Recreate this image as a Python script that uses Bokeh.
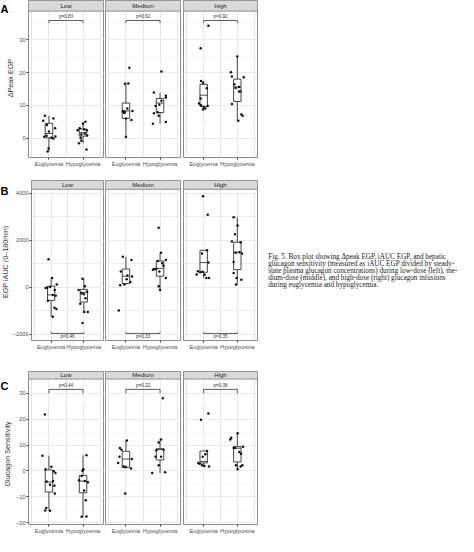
import numpy as np
from bokeh.plotting import figure
from bokeh.models import Range1d, FixedTicker, LinearAxis, Grid, ColumnDataSource
from bokeh.layouts import row, column
from bokeh.embed import file_html
from bokeh.resources import INLINE
from bokeh.core.properties import value

# ---------------- data ----------------
CONDITIONS = ["Euglycemia", "Hypoglycemia"]
DOSES = ["Low", "Medium", "High"]

# Panel A: delta peak EGP
A_LOW_EUG_Y = [6.8, 6.0, 5.3, 4.0, 3.0, 2.0, 0.7, 0.1, -0.1, 0.5, 0.4, -3.2, -4.1]
A_LOW_EUG_DX = [-0.12, 0.13, -0.17, -0.06, 0.18, 0.0, -0.07, 0.07, 0.13, 0.19, -0.14, -0.01, -0.04]
A_LOW_HYP_Y = [5.0, 4.4, 3.0, 2.4, 2.6, 2.4, 1.3, 1.1, 0.8, 0.0, -0.8, -1.6, -3.5]
A_LOW_HYP_DX = [0.07, 0.0, -0.10, -0.16, 0.03, 0.11, 0.05, -0.05, 0.12, -0.07, -0.05, -0.12, 0.10]
A_MED_EUG_Y = [21.5, 16.7, 16.6, 8.2, 8.0, 7.7, 9.0, 8.3, 5.5, 6.0, 0.3, 8.1]
A_MED_EUG_DX = [0.10, 0.07, -0.03, -0.07, -0.03, -0.05, 0.04, 0.19, 0.16, 0.0, 0.0, -0.09]
A_MED_HYP_Y = [20.3, 13.9, 12.9, 12.4, 10.2, 9.8, 11.4, 7.9, 7.6, 6.8, 4.4, 4.9]
A_MED_HYP_DX = [0.04, -0.18, 0.17, 0.17, -0.02, -0.13, 0.04, -0.07, -0.18, -0.04, -0.21, 0.17]
A_HIGH_EUG_Y = [34.3, 27.4, 17.4, 16.9, 15.2, 12.1, 10.6, 10.0, 9.5, 9.0, 8.7, 9.8]
A_HIGH_EUG_DX = [0.14, -0.09, -0.08, -0.02, 0.09, -0.09, -0.14, -0.08, 0.0, 0.05, -0.02, 0.12]
A_HIGH_HYP_Y = [24.9, 20.1, 18.6, 18.8, 16.4, 15.6, 15.3, 14.2, 14.2, 10.4, 7.2, 6.8, 5.3]
A_HIGH_HYP_DX = [0.0, -0.19, 0.19, -0.16, -0.09, 0.05, -0.05, 0.09, 0.05, -0.16, 0.12, 0.16, 0.03]
# box stats in order Low-Eu, Low-Hypo, Med-Eu, Med-Hypo, High-Eu, High-Hypo
A_Q1 = [0.1, 0.6, 6.0, 7.8, 9.7, 11.2]
A_MEDIAN = [1.4, 1.7, 8.3, 10.7, 13.1, 15.6]
A_Q3 = [4.5, 2.8, 10.7, 12.1, 16.4, 18.0]
A_WLO = [-4.1, -1.6, 0.3, 4.4, 8.7, 5.3]
A_WHI = [6.8, 5.0, 16.7, 13.9, 17.4, 24.9]
A_P = ["p=0.83", "p=0.62", "p=0.92"]
A_BRACKET = [35.9, 35.1, 37.2]   # level, tip, label
A_YTICKS = [0, 10, 20, 30]
A_YMINOR = [-5, 5, 15, 25, 35]
A_YRANGE = [-5.92, 42.0, 38.76]  # bottom, top, strip bottom
A_TITLE = "ΔPeak EGP"

# Panel B: EGP iAUC
B_LOW_EUG_Y = [1196, 399, 124, -27, -14, 20, -110, -316, -357, -564, -866, -921, -1251]
B_LOW_EUG_DX = [-0.08, 0.03, 0.17, -0.17, -0.12, -0.03, 0.11, 0.05, 0.14, -0.10, 0.10, 0.16, 0.05]
B_LOW_HYP_Y = [371, 55, -110, -247, -289, -179, -454, -688, -1045, -1045, -1512]
B_LOW_HYP_DX = [-0.04, 0.03, -0.16, -0.07, 0.0, 0.10, 0.05, -0.11, 0.01, 0.12, -0.04]
B_MED_EUG_Y = [1306, 1168, 674, 96, 467, 124, 234, 344, 509, -976]
B_MED_EUG_DX = [-0.09, 0.16, -0.15, -0.17, 0.18, -0.05, 0.13, 0.02, 0.04, -0.21]
B_MED_HYP_Y = [2543, 1471, 1168, 1127, 784, 784, 756, 1031, 921, 674, 399, 55, -110]
B_MED_HYP_DX = [-0.04, 0.03, 0.17, -0.07, -0.16, -0.11, -0.21, 0.06, 0.10, -0.02, 0.17, -0.04, 0.0]
B_HIGH_EUG_Y = [3876, 3093, 1581, 1443, 1058, 687, 550, 646, 536, 399, 399, 673]
B_HIGH_EUG_DX = [-0.02, 0.12, 0.10, -0.05, 0.14, -0.17, -0.21, -0.10, 0.03, 0.16, 0.08, -0.03]
B_HIGH_HYP_Y = [2983, 2639, 2268, 1952, 1924, 1443, 1498, 1471, 1086, 619, 330, 124, 399]
B_HIGH_HYP_DX = [-0.11, 0.01, -0.07, -0.16, 0.10, 0.14, 0.06, -0.05, -0.11, -0.11, 0.12, -0.04, -0.02]
B_Q1 = [-550, -619, 165, 481, 646, 756]
B_MEDIAN = [-316, -206, 481, 811, 1058, 1498]
B_Q3 = [55, -82, 784, 1127, 1581, 1924]
B_WLO = [-1251, -1045, 96, -110, 399, 124]
B_WHI = [399, 371, 1306, 1471, 1581, 2983]
B_P = ["p=0.46", "p=0.33", "p=0.35"]
B_BRACKET = [-1955, -1890, -2085]
B_YTICKS = [-2000, 0, 2000, 4000]
B_YMINOR = [-1000, 1000, 3000]
B_YRANGE = [-2256, 4549, 4177]
B_TITLE = "EGP iAUC (0–180min)"

# Panel C: glucagon sensitivity
C_LOW_EUG_Y = [21.8, 5.9, 1.6, -0.1, -0.8, -4.1, -3.9, -5.3, -5.7, -8.7, -14.3, -15.3, -15.2, 0.7]
C_LOW_EUG_DX = [-0.12, -0.19, 0.07, 0.14, 0.19, -0.07, 0.12, 0.03, 0.16, 0.17, -0.08, 0.03, -0.11, -0.10]
C_LOW_HYP_Y = [6.1, 0.7, 0.1, -3.6, -1.9, -3.9, -4.3, -7.5, -11.3, -17.7, -17.6]
C_LOW_HYP_DX = [0.10, 0.01, -0.02, -0.12, -0.04, 0.05, 0.14, 0.03, 0.08, -0.04, 0.10]
C_MED_EUG_Y = [11.8, 8.9, 8.2, 5.5, 4.6, 3.1, 1.6, 1.0, 1.7, -8.7]
C_MED_EUG_DX = [0.03, -0.18, -0.13, -0.19, 0.17, -0.23, -0.01, 0.15, -0.07, -0.02]
C_MED_HYP_Y = [28.1, 12.2, 11.0, 8.2, 8.0, 5.5, 5.5, 2.2, -0.8, -0.5]
C_MED_HYP_DX = [0.08, 0.03, -0.04, 0.10, -0.11, -0.13, 0.03, -0.04, -0.23, 0.15]
C_HIGH_EUG_Y = [22.2, 19.8, 6.5, 5.5, 3.1, 2.8, 1.9, 1.7, 2.2, 7.7]
C_HIGH_EUG_DX = [0.14, -0.08, 0.05, -0.03, -0.16, -0.12, 0.02, 0.16, -0.05, 0.10]
C_HIGH_HYP_Y = [14.6, 12.8, 12.2, 8.9, 9.4, 7.3, 6.7, 2.2, 1.7, 2.2, 0.7, 8.9]
C_HIGH_HYP_DX = [0.01, -0.18, -0.21, -0.11, 0.17, 0.06, 0.11, -0.04, 0.10, 0.15, 0.01, -0.07]
C_Q1 = [-8.1, -8.4, 1.3, 4.3, 3.1, 3.5]
C_MEDIAN = [-4.3, -3.9, 4.6, 8.3, 3.7, 8.8]
C_Q3 = [0.4, -1.7, 7.6, 8.6, 7.7, 9.4]
C_WLO = [-15.3, -17.7, 1.0, -0.8, 1.7, 0.7]
C_WHI = [5.9, 6.1, 11.8, 12.2, 7.7, 14.6]
C_P = ["p=0.44", "p=0.22", "p=0.38"]
C_BRACKET = [31.5, 30.0, 33.1]
C_YTICKS = [-20, -10, 0, 10, 20, 30]
C_YMINOR = [-15, -5, 5, 15, 25, 35]
C_YRANGE = [-20.65, 38.4, 35.5]
C_TITLE = "Glucagon Sensitivity"

CAPTION = [
    "Fig. 5. Box plot showing Δpeak EGP, iAUC EGP, and hepatic",
    "glucagon sensitivity (measured as iAUC EGP divided by steady-",
    "state plasma glucagon concentrations) during low-dose (left), me-",
    "dium-dose (middle), and high-dose (right) glucagon infusions",
    "during euglycemia and hypoglycemia.",
]

# ---------------- style / layout ----------------
FONT = "Liberation Sans"
SERIF = "Liberation Serif"
BORDER = "#8C8C8C"
INK = "#333333"
BOX_W = 0.22
SX = 458 / 474
SY = 536 / 552

FACET_W = [104, 77, 78]
FACET_BORDERS = [(28, 1), (1, 1), (2, 2)]


def facet(k, dose, groups, stats, yinfo, ticks, minor, ptxt, bracket, h, top, bottom, lead_w):
    bl, br = FACET_BORDERS[k]
    w = FACET_W[k]
    if k == 0:
        w -= lead_w
        bl -= lead_w
    ylo, yhi, strip_lo = yinfo
    p = figure(width=w, height=h, x_range=Range1d(0.4, 2.6), y_range=Range1d(ylo, yhi),
               output_backend="svg", toolbar_location=None,
               x_axis_location=None, y_axis_location=None,
               min_border_left=bl, min_border_right=br, min_border_top=top,
               min_border_bottom=bottom)
    p.outline_line_color = BORDER
    p.outline_line_width = 1
    p.background_fill_color = "white"
    p.border_fill_color = "white"

    p.add_layout(Grid(dimension=0, ticker=FixedTicker(ticks=[1, 2]),
                      grid_line_color="#EBEBEB", grid_line_width=0.8))
    p.add_layout(Grid(dimension=1, ticker=FixedTicker(ticks=ticks, minor_ticks=minor),
                      grid_line_color="#EBEBEB", grid_line_width=0.8,
                      minor_grid_line_color="#F3F3F3", minor_grid_line_width=0.5))

    xa = LinearAxis(ticker=FixedTicker(ticks=[1, 2]),
                    major_label_overrides={1: CONDITIONS[0], 2: CONDITIONS[1]})
    xa.axis_line_color = None
    xa.major_tick_line_color = INK
    xa.major_tick_out = 2
    xa.major_tick_in = 0
    xa.minor_tick_out = 0
    xa.minor_tick_in = 0
    xa.major_label_standoff = 1
    xa.major_label_text_font = FONT
    xa.major_label_text_font_size = "5.5px"
    xa.major_label_text_color = "#4D4D4D"
    p.add_layout(xa, "below")

    if k == 0:
        ya = LinearAxis(ticker=FixedTicker(ticks=ticks, minor_ticks=minor))
        ya.axis_line_color = None
        ya.major_tick_line_color = INK
        ya.major_tick_out = 2
        ya.major_tick_in = 0
        ya.minor_tick_out = 0
        ya.minor_tick_in = 0
        ya.major_label_standoff = 1
        ya.major_label_text_font = FONT
        ya.major_label_text_font_size = "5.6px"
        ya.major_label_text_color = "#4D4D4D"
        p.add_layout(ya, "left")

    # boxes
    pos = [1, 2]
    i0 = 2 * k
    src = ColumnDataSource(dict(
        x=pos,
        left=[x - BOX_W / 2 for x in pos], right=[x + BOX_W / 2 for x in pos],
        q1=stats[0][i0:i0 + 2], med=stats[1][i0:i0 + 2], q3=stats[2][i0:i0 + 2],
        wlo=stats[3][i0:i0 + 2], whi=stats[4][i0:i0 + 2]))
    p.segment(x0="x", y0="q3", x1="x", y1="whi", source=src, line_color=INK, line_width=0.9)
    p.segment(x0="x", y0="q1", x1="x", y1="wlo", source=src, line_color=INK, line_width=0.9)
    p.quad(left="left", right="right", bottom="q1", top="q3", source=src,
           fill_color="white", line_color=INK, line_width=0.9)
    p.segment(x0="left", y0="med", x1="right", y1="med", source=src, line_color=INK, line_width=0.9)

    # jittered points
    for j, (ys, dxs) in enumerate(groups):
        p.scatter(x=[pos[j] + d for d in dxs], y=ys, size=2.5, color="#111111", line_width=0)

    # significance bracket
    lvl, tip, lab = bracket
    p.segment(x0=[1, 1, 2], y0=[lvl, lvl, lvl], x1=[2, 1, 2], y1=[lvl, tip, tip],
              line_color=INK, line_width=0.8)
    p.text(x=[1.5], y=[lab], text=[ptxt], text_align="center", text_baseline="middle",
           text_font=value(FONT), text_font_size="4.6px", text_color=INK)

    # facet strip
    p.quad(left=[0.4], right=[2.6], bottom=[strip_lo], top=[yhi], fill_color="#D9D9D9",
           line_color=BORDER, line_width=1)
    p.text(x=[1.5], y=[(strip_lo + yhi) / 2], text=[dose], text_align="center",
           text_baseline="middle", text_font=value(FONT), text_font_size="6px",
           text_color="#1A1A1A")
    return p


def lead(lead_w, h, letter, letter_y, title, title_x, title_y):
    p = figure(width=lead_w, height=h, x_range=Range1d(0, lead_w), y_range=Range1d(h, 0),
               output_backend="svg", toolbar_location=None, x_axis_location=None,
               y_axis_location=None, min_border=0)
    p.outline_line_color = None
    p.grid.visible = False
    p.text(x=[0], y=[letter_y], text=[letter], text_align="left", text_baseline="middle",
           text_font=value(FONT), text_font_size="11px", text_font_style="bold",
           text_color="#000000")
    p.text(x=[title_x], y=[title_y], text=[title], angle=np.pi / 2, text_align="center",
           text_baseline="middle", text_font=value(FONT), text_font_size="7.2px",
           text_color="#333333")
    return p


def panel(groups, stats, yinfo, ticks, minor, pvals, bracket, h, top, bottom,
          lead_w, letter, letter_y, title, title_x, title_y):
    figs = [lead(lead_w, h, letter, letter_y, title, title_x, title_y)]
    for k, dose in enumerate(DOSES):
        g = groups[2 * k:2 * k + 2]
        figs.append(facet(k, dose, g, stats, yinfo, ticks, minor, pvals[k], bracket,
                          h, top, bottom, lead_w))
    return row(*figs)


A_GROUPS = [(A_LOW_EUG_Y, A_LOW_EUG_DX), (A_LOW_HYP_Y, A_LOW_HYP_DX),
            (A_MED_EUG_Y, A_MED_EUG_DX), (A_MED_HYP_Y, A_MED_HYP_DX),
            (A_HIGH_EUG_Y, A_HIGH_EUG_DX), (A_HIGH_HYP_Y, A_HIGH_HYP_DX)]
B_GROUPS = [(B_LOW_EUG_Y, B_LOW_EUG_DX), (B_LOW_HYP_Y, B_LOW_HYP_DX),
            (B_MED_EUG_Y, B_MED_EUG_DX), (B_MED_HYP_Y, B_MED_HYP_DX),
            (B_HIGH_EUG_Y, B_HIGH_EUG_DX), (B_HIGH_HYP_Y, B_HIGH_HYP_DX)]
C_GROUPS = [(C_LOW_EUG_Y, C_LOW_EUG_DX), (C_LOW_HYP_Y, C_LOW_HYP_DX),
            (C_MED_EUG_Y, C_MED_EUG_DX), (C_MED_HYP_Y, C_MED_HYP_DX),
            (C_HIGH_EUG_Y, C_HIGH_EUG_DX), (C_HIGH_HYP_Y, C_HIGH_HYP_DX)]

rowA = panel(A_GROUPS, [A_Q1, A_MEDIAN, A_Q3, A_WLO, A_WHI], A_YRANGE, A_YTICKS, A_YMINOR,
             A_P, A_BRACKET, 170, 0, 13, 14, "A", 9 * SY, A_TITLE, 10.3 * SX, 86.5 * SY)
rowB = panel(B_GROUPS, [B_Q1, B_MEDIAN, B_Q3, B_WLO, B_WHI], B_YRANGE, B_YTICKS, B_YMINOR,
             B_P, B_BRACKET, 185, 10, 15, 9, "B", 187.5 * SY - 170, B_TITLE, 5.0 * SX,
             272 * SY - 170)
rowC = panel(C_GROUPS, [C_Q1, C_MEDIAN, C_Q3, C_WLO, C_WHI], C_YRANGE, C_YTICKS, C_YMINOR,
             C_P, C_BRACKET, 181, 16, 11, 12, "C", 383.5 * SY - 355, C_TITLE, 7.6 * SX,
             466 * SY - 355)

# ---------------- caption ----------------
cap_left = sum(FACET_W)
cap_w = 458 - cap_left
cap_x0 = 277 * SX - cap_left

cap = figure(width=cap_w, height=536, x_range=Range1d(0, cap_w), y_range=Range1d(536, 0),
             output_backend="svg", toolbar_location=None, x_axis_location=None,
             y_axis_location=None, min_border=0)
cap.outline_line_color = None
cap.grid.visible = False
cap_src = ColumnDataSource(dict(x=[cap_x0] * len(CAPTION),
                                y=[(264 + 7.3 * i) * SY for i in range(len(CAPTION))],
                                text=CAPTION))
cap.text(x="x", y="y", text="text", source=cap_src, text_align="left",
         text_baseline="middle", text_font=value(SERIF), text_font_size="7.2px",
         text_font_style="normal", text_color="#222222")

layout = row(column(rowA, rowB, rowC), cap)
open("out.html", "w").write(file_html(layout, INLINE))
